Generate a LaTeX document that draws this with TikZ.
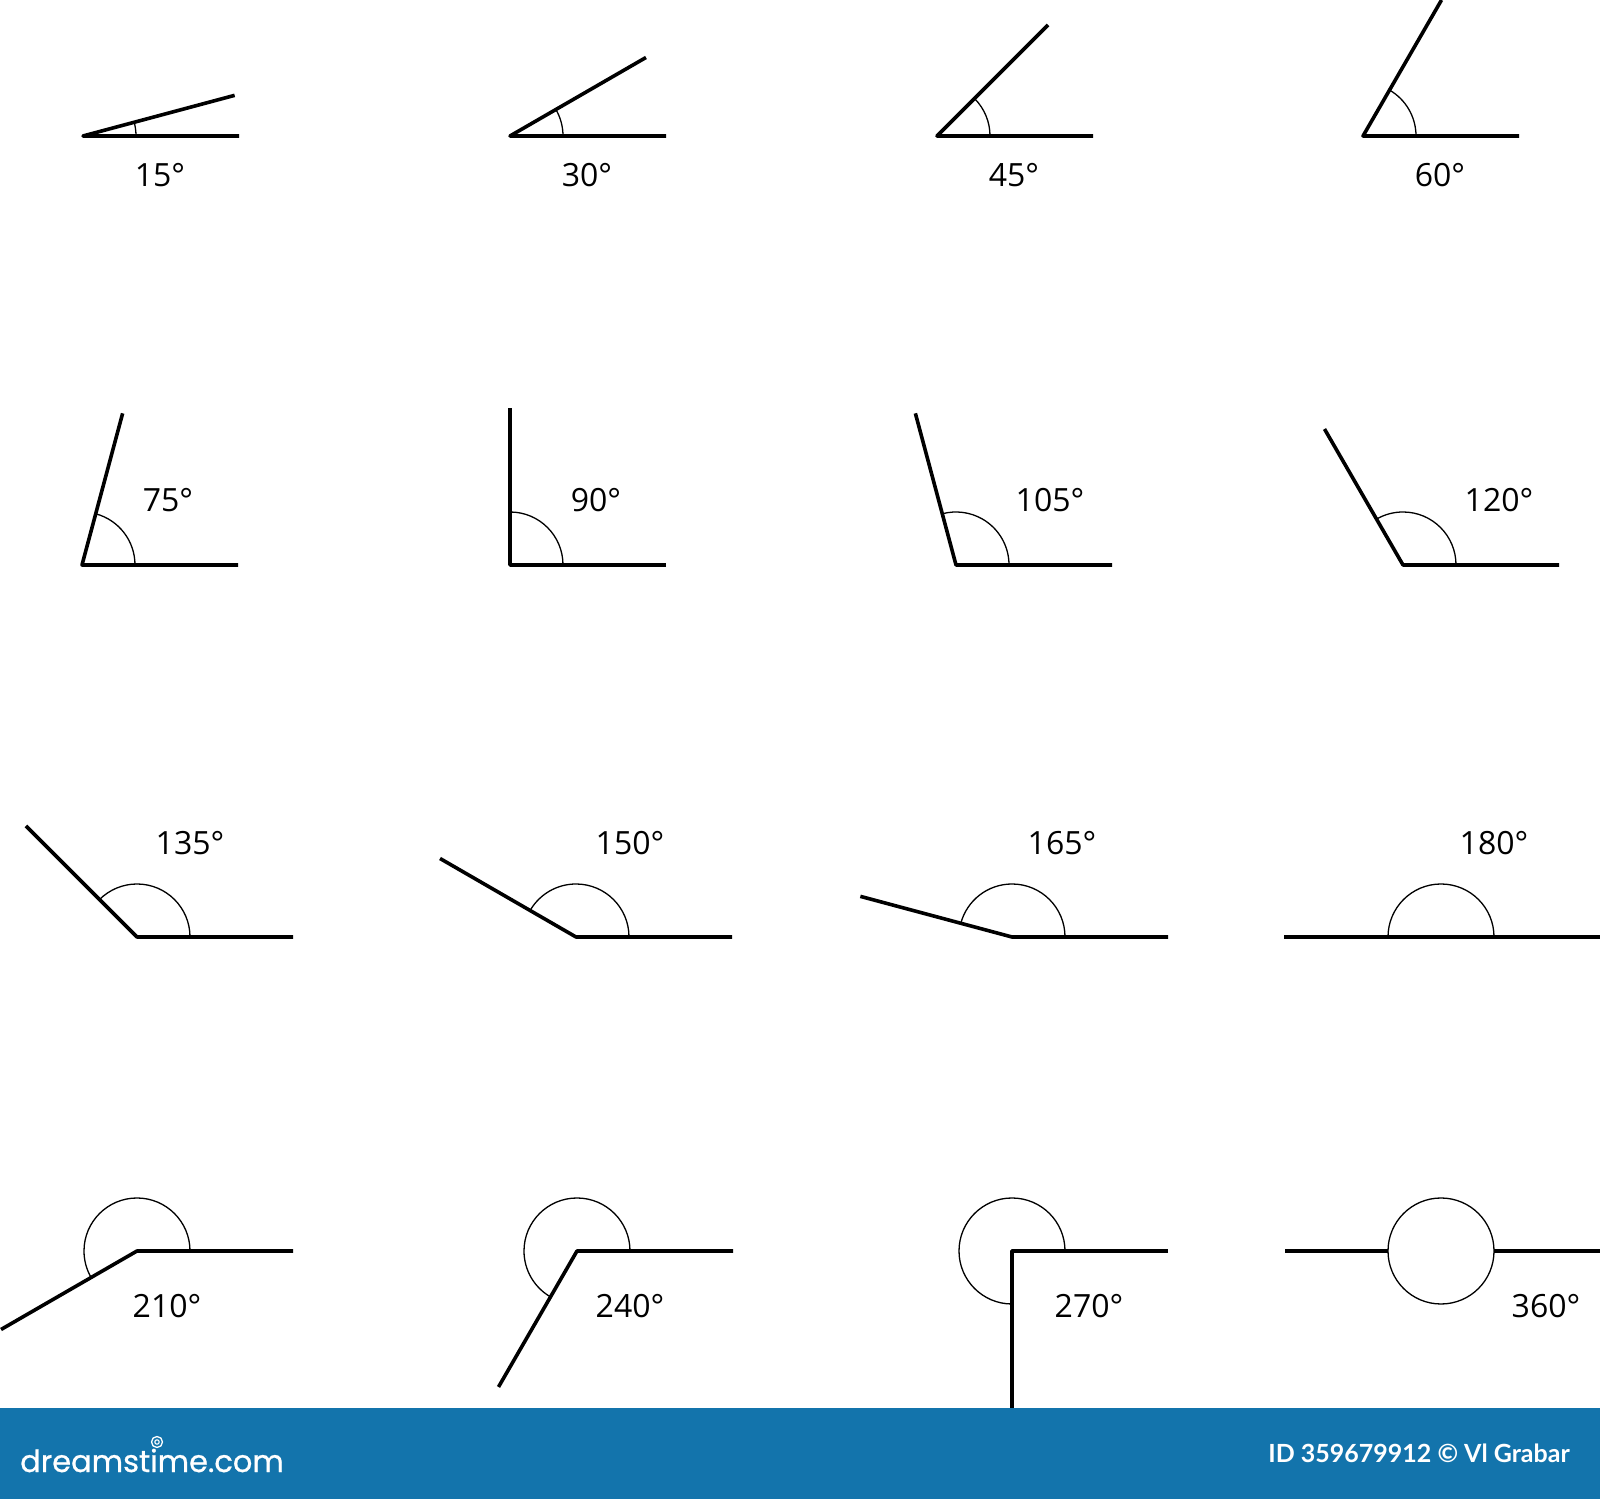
\documentclass[tikz,border=0pt]{standalone}
\usepackage{fontspec}
\setmainfont{Open Sans}
\newfontfamily\idfont{Lato}
\newfontfamily\logofont[FakeBold=0.8]{Poppins}
\usetikzlibrary{calc}
\definecolor{barblue}{RGB}{19,116,172}
\tikzset{
  rayline/.style={line width=3.6pt,line join=round,black},
  arcline/.style={line width=1.3pt,black},
  anglab/.style={font=\fontsize{32}{38}\selectfont,inner sep=0pt},
}
\newcommand\angmark[7]{%
  \coordinate (v#1) at (#2,{1499-#3});
  \coordinate (b#1) at ($(v#1)+(#7,0)$);
  \coordinate (r#1) at ($(v#1)+(#4:157)$);
  \draw[arcline] ($(v#1)+(53,0)$) arc[start angle=0,end angle=#4,radius=53];
  \draw[rayline] (b#1) -- (v#1) -- (r#1);
  \node[anglab] (l#1) at (#5,{1499-#6}) {#4°};
}
\begin{document}
\begin{tikzpicture}[x=1pt,y=1pt]
\useasboundingbox (0,0) rectangle (1600,1499);
% row 1
\angmark{a}{83}{136}{15}{160}{175}{156}
\angmark{b}{510}{136}{30}{587}{175}{156}
\angmark{c}{937}{136}{45}{1014}{175}{156}
\angmark{d}{1363}{136}{60}{1440}{175}{156}
% row 2
\angmark{e}{82}{565}{75}{168}{500}{156}
\angmark{f}{510}{565}{90}{596}{500}{156}
\angmark{g}{956}{565}{105}{1050}{500}{156}
\angmark{h}{1403}{565}{120}{1499}{500}{156}
% row 3
\angmark{i}{137}{937}{135}{190}{843}{156}
\angmark{j}{576}{937}{150}{630}{843}{156}
\angmark{k}{1012}{937}{165}{1062}{843}{156}
\angmark{l}{1441}{937}{180}{1494}{843}{159}
% row 4
\angmark{m}{137}{1251}{210}{167}{1306}{156}
\angmark{n}{577}{1251}{240}{630}{1306}{156}
\angmark{o}{1012}{1251}{270}{1089}{1306}{156}
% 360
\coordinate (vp) at (1441,{1499-1251});
\coordinate (lp) at (1285,{1499-1251});
\coordinate (rp) at (1600,{1499-1251});
\draw[arcline] (vp) circle[radius=53];
\draw[rayline] (lp) -- ($(vp)+(-53,0)$);
\draw[rayline] ($(vp)+(53,0)$) -- (rp);
\node[anglab] (lq) at (1546,{1499-1306}) {360°};
% bottom bar
\fill[barblue] (0,0) rectangle (1600,{1499-1408});
\node[anchor=base west,inner sep=0pt,text=white,font=\logofont\fontsize{30.5}{32}\selectfont] (logo) at (20,{1499-1472}) {dreamstime.com};
\draw[white,line width=1.3pt] (157,{1499-1442}) circle[radius=5.5];
\draw[white,line width=1.1pt] (157,{1499-1442}) circle[radius=2.2];
\node[anchor=east,inner sep=0pt,text=white,font=\idfont\bfseries\fontsize{25}{28}\selectfont] (idtext) at (1570,{1499-1453}) {ID 359679912 © Vl Grabar};
\end{tikzpicture}
\end{document}
